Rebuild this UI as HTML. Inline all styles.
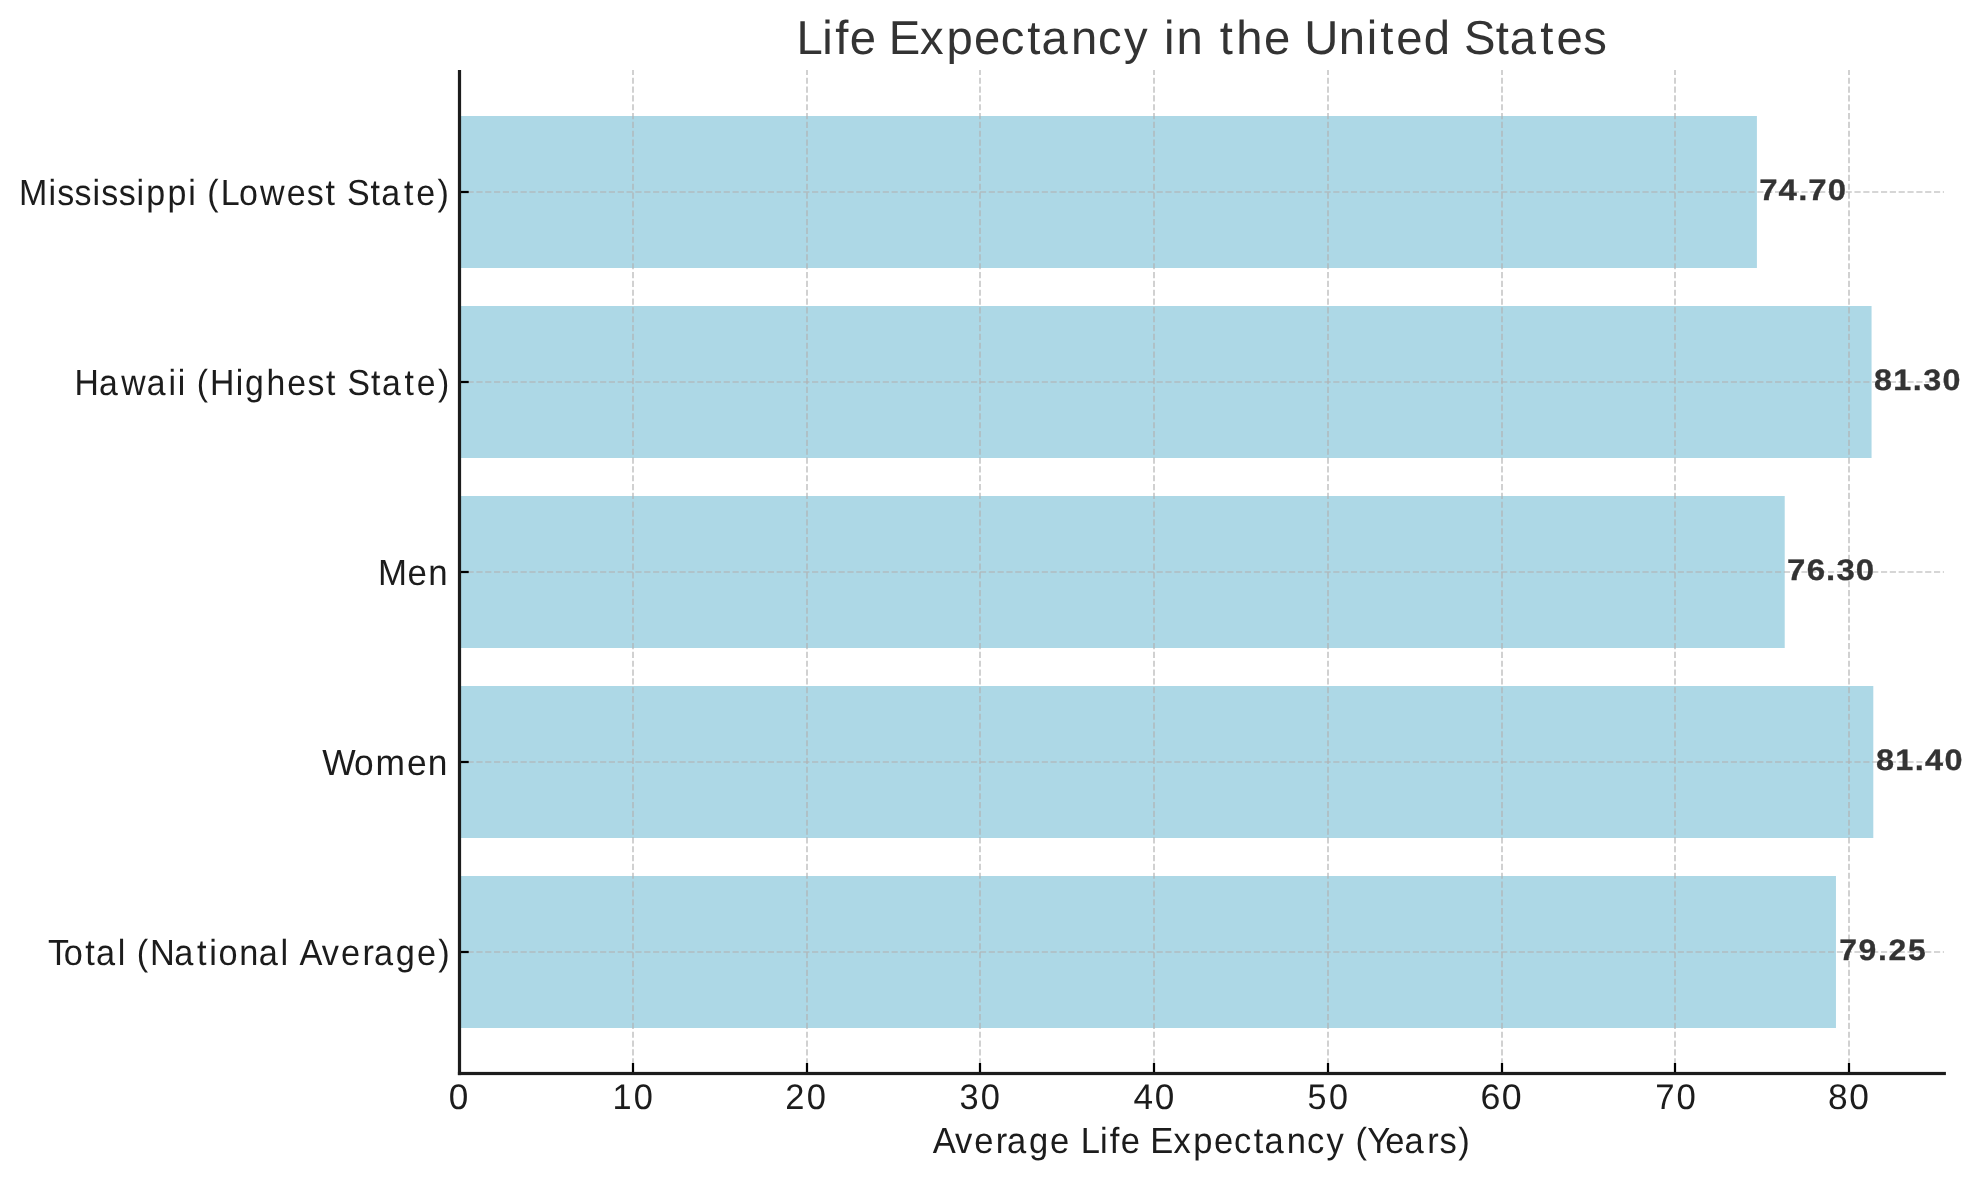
<!DOCTYPE html>
<html lang="en">
<head>
<meta charset="utf-8">
<title>Life Expectancy in the United States</title>
<style>
html,body{margin:0;padding:0;background:#ffffff;}
body{width:1983px;height:1180px;}
svg{display:block;will-change:transform;}
svg text{font-family:"Liberation Sans",sans-serif;text-rendering:geometricPrecision;font-kerning:none;font-variant-ligatures:none;}
</style>
</head>
<body>
<svg width="1983" height="1180" viewBox="0 0 1983 1180">
<rect x="0" y="0" width="1983" height="1180" fill="#ffffff"/>
<g fill="#add8e6">
<rect x="459.3" y="116" width="1297.61" height="152"/>
<rect x="459.3" y="306" width="1412.26" height="152"/>
<rect x="459.3" y="496" width="1325.41" height="152"/>
<rect x="459.3" y="686" width="1414.00" height="152"/>
<rect x="459.3" y="876" width="1376.65" height="152"/>
</g>
<g stroke="#b0b0b0" stroke-opacity="0.7" stroke-width="1.667" stroke-dasharray="6.167 2.667" fill="none">
<line x1="633" y1="1073.2" x2="633" y2="70.0"/>
<line x1="807" y1="1073.2" x2="807" y2="70.0"/>
<line x1="980" y1="1073.2" x2="980" y2="70.0"/>
<line x1="1154" y1="1073.2" x2="1154" y2="70.0"/>
<line x1="1328" y1="1073.2" x2="1328" y2="70.0"/>
<line x1="1502" y1="1073.2" x2="1502" y2="70.0"/>
<line x1="1675" y1="1073.2" x2="1675" y2="70.0"/>
<line x1="1849" y1="1073.2" x2="1849" y2="70.0"/>
<line x1="458.7" y1="192" x2="1944.0" y2="192"/>
<line x1="458.7" y1="382" x2="1944.0" y2="382"/>
<line x1="458.7" y1="572" x2="1944.0" y2="572"/>
<line x1="458.7" y1="762" x2="1944.0" y2="762"/>
<line x1="458.7" y1="952" x2="1944.0" y2="952"/>
</g>
<g fill="#000000">
<rect x="459.5" y="190.89" width="9.2" height="2.22"/>
<rect x="459.5" y="380.89" width="9.2" height="2.22"/>
<rect x="459.5" y="570.89" width="9.2" height="2.22"/>
<rect x="459.5" y="760.89" width="9.2" height="2.22"/>
<rect x="459.5" y="950.89" width="9.2" height="2.22"/>
<rect x="458.39" y="1063" width="2.22" height="10"/>
<rect x="631.89" y="1063" width="2.22" height="10"/>
<rect x="805.89" y="1063" width="2.22" height="10"/>
<rect x="978.89" y="1063" width="2.22" height="10"/>
<rect x="1152.89" y="1063" width="2.22" height="10"/>
<rect x="1326.89" y="1063" width="2.22" height="10"/>
<rect x="1500.89" y="1063" width="2.22" height="10"/>
<rect x="1673.89" y="1063" width="2.22" height="10"/>
<rect x="1847.89" y="1063" width="2.22" height="10"/>
</g>
<g fill="#1c1c1c">
<rect x="457.9" y="70" width="3.2" height="1005.1"/>
<rect x="457.9" y="1071.9" width="1488" height="3.2"/>
</g>
<text transform="scale(0.9919,1)" x="803.06 828.85 842.20 856.79 883.75 896.13 927.61 954.16 982.02 1008.86 1035.70 1050.03 1079.79 1107.04 1133.17 1158.37 1173.59 1186.16 1213.53 1229.84 1246.37 1274.45 1301.41 1314.88 1349.57 1377.90 1391.46 1407.63 1435.32 1463.07 1475.92 1507.86 1522.19 1552.94 1569.12 1596.17" y="54.00" font-size="47.60" fill="#333333">Life Expectancy in the United States</text>
<text transform="scale(0.9367,1)" x="20.26 51.69 61.10 79.67 98.72 108.13 126.69 145.75 156.15 178.77 200.88 209.85 221.16 235.66 255.06 277.49 306.13 327.57 347.53 359.66 370.37 395.45 407.06 431.25 444.30 467.11" y="205.00" font-size="36.30" fill="#1c1c1c">Mississippi (Lowest State)</text>
<text transform="scale(0.9299,1)" x="80.18 106.38 130.34 157.73 181.12 191.09 200.10 211.54 225.87 253.46 263.52 286.54 309.01 330.59 350.68 362.86 373.73 398.94 410.69 435.01 448.19 471.13" y="395.00" font-size="36.30" fill="#1c1c1c">Hawaii (Highest State)</text>
<text transform="scale(0.9587,1)" x="394.22 425.04 446.78" y="585.00" font-size="36.30" fill="#1c1c1c">Men</text>
<text transform="scale(0.9749,1)" x="330.65 363.06 385.26 417.47 438.86" y="775.00" font-size="36.30" fill="#1c1c1c">Women</text>
<text transform="scale(0.9453,1)" x="50.81 67.44 90.12 101.58 124.68 133.63 144.77 158.70 184.43 208.45 221.40 231.02 253.08 273.70 296.80 305.75 316.91 340.36 360.72 383.52 395.53 418.65 441.01 463.66" y="965.00" font-size="36.30" fill="#1c1c1c">Total (National Average)</text>
<text transform="scale(1.1110,1)" x="1583.40 1600.77 1618.50 1627.65 1645.20" y="200.00" font-size="29.65" fill="#333333" font-weight="700" stroke="#333333" stroke-width="0.3">74.70</text>
<text transform="scale(1.0902,1)" x="1718.95 1736.72 1754.51 1764.10 1781.80" y="390.00" font-size="29.65" fill="#333333" font-weight="700" stroke="#333333" stroke-width="0.3">81.30</text>
<text transform="scale(1.1128,1)" x="1605.94 1623.53 1640.98 1650.29 1667.63" y="580.00" font-size="29.65" fill="#333333" font-weight="700" stroke="#333333" stroke-width="0.3">76.30</text>
<text transform="scale(1.0950,1)" x="1713.23 1730.93 1748.66 1758.00 1775.81" y="770.00" font-size="29.65" fill="#333333" font-weight="700" stroke="#333333" stroke-width="0.3">81.40</text>
<text transform="scale(1.0769,1)" x="1707.88 1725.83 1743.95 1753.65 1771.65" y="960.00" font-size="29.65" fill="#333333" font-weight="700" stroke="#333333" stroke-width="0.3">79.25</text>
<text transform="scale(0.9870,1)" x="454.63" y="1109.00" font-size="35.60" fill="#1c1c1c">0</text>
<text transform="scale(0.9660,1)" x="633.97 656.13" y="1109.00" font-size="35.60" fill="#1c1c1c">10</text>
<text transform="scale(0.9696,1)" x="809.82 832.17" y="1109.00" font-size="35.60" fill="#1c1c1c">20</text>
<text transform="scale(0.9675,1)" x="991.87 1013.77" y="1109.00" font-size="35.60" fill="#1c1c1c">30</text>
<text transform="scale(0.9871,1)" x="1148.23 1169.74" y="1109.00" font-size="35.60" fill="#1c1c1c">40</text>
<text transform="scale(0.9594,1)" x="1362.93 1385.20" y="1109.00" font-size="35.60" fill="#1c1c1c">50</text>
<text transform="scale(1.0040,1)" x="1474.52 1495.67" y="1109.00" font-size="35.60" fill="#1c1c1c">60</text>
<text transform="scale(0.9765,1)" x="1695.17 1716.98" y="1109.00" font-size="35.60" fill="#1c1c1c">70</text>
<text transform="scale(0.9923,1)" x="1842.18 1863.58" y="1109.00" font-size="35.60" fill="#1c1c1c">80</text>
<text transform="scale(0.9510,1)" x="980.81 1004.14 1024.37 1047.05 1058.96 1081.95 1104.17 1125.00 1136.57 1156.56 1167.04 1178.57 1199.41 1209.42 1233.95 1254.76 1276.54 1297.52 1318.40 1329.76 1353.02 1374.32 1394.75 1414.24 1425.27 1437.68 1456.68 1476.84 1500.86 1513.74 1533.44" y="1153.00" font-size="36.30" fill="#1c1c1c">Average Life Expectancy (Years)</text>
</svg>
</body>
</html>
